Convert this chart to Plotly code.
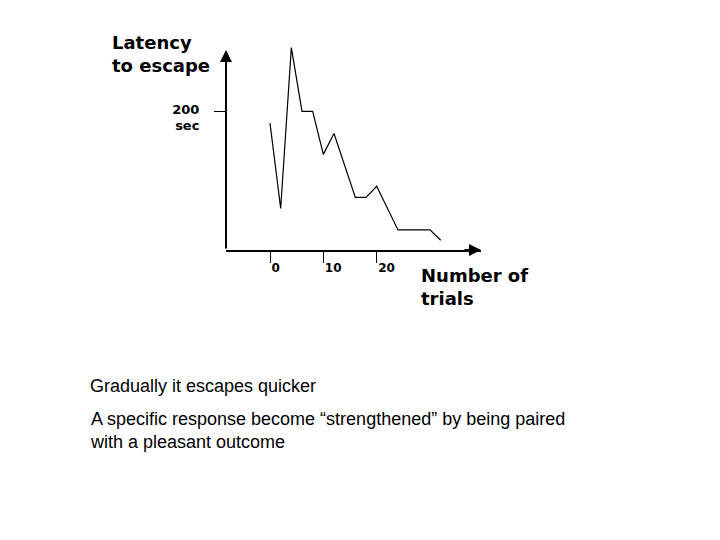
import plotly.graph_objects as go

# trials vs latency to escape (sec)
trials = [0, 2, 4, 6, 8, 10, 12, 16, 18, 20, 24, 30, 32]
latency = [183, 60, 292, 200, 200, 138, 168, 76, 76, 92, 29, 29, 14]

x_ticks = [0, 10, 20]
x_tick_text = ["0", "10", "20"]
y_ticks = [200]
y_tick_text = ["200<br>sec"]

y_title = "Latency<br>to escape"
x_title = "Number of<br>trials"
notes = [
    "Gradually it escapes quicker",
    "A specific response become \u201cstrengthened\u201d by being paired<br>with a pleasant outcome",
]

# the page body adds an 8px offset, so margins are 8px smaller
L, T, W, H = 218, 32, 255, 210


def xp(px):  # page pixel -> paper x
    return (px - 8 - L) / W


def yp(py):  # page pixel -> paper y
    return (T + H - (py - 8)) / H


fig = go.Figure()

fig.add_trace(go.Scatter(x=trials, y=latency, mode='lines',
                         line=dict(color='black', width=1.2), showlegend=False))

bold = dict(family='DejaVu Sans', size=18, color='black', weight='bold')

fig.update_layout(
    width=720, height=540,
    margin=dict(l=L, r=720 - L - W, t=T, b=540 - T - H),
    paper_bgcolor='white', plot_bgcolor='white',
    xaxis=dict(range=[-8.25, 39.56], showgrid=False, zeroline=False,
               showline=True, linewidth=2, linecolor='black',
               tickvals=x_ticks, ticktext=x_tick_text,
               ticks='outside', ticklen=11, tickwidth=1, tickcolor='black',
               ticklabelposition='outside right', ticklabelstandoff=6,
               tickfont=dict(family='DejaVu Sans', size=12, color='black', weight='bold')),
    yaxis=dict(range=[0, 303], showgrid=False, zeroline=False, showline=False,
               tickvals=y_ticks, ticktext=y_tick_text,
               ticks='outside', ticklen=11, tickwidth=1, tickcolor='black',
               ticklabelstandoff=12, ticklabelshift=6,
               tickfont=dict(family='DejaVu Sans', size=13, color='black', weight='bold')),
)

# axis arrows
fig.add_annotation(x=0, y=288.6, xref='paper', yref='y', ax=0, ay=200,
                   showarrow=True, arrowhead=2, arrowwidth=2, arrowsize=1.2,
                   arrowcolor='black', text='')
fig.add_annotation(x=1, y=0, xref='paper', yref='y', ax=-18, ay=0,
                   showarrow=True, arrowhead=2, arrowwidth=2, arrowsize=1.2,
                   arrowcolor='black', text='')

fig.add_annotation(text=y_title, x=xp(110), y=yp(54), xref='paper', yref='paper',
                   xanchor='left', yanchor='middle', align='left',
                   showarrow=False, font=bold)
fig.add_annotation(text=x_title, x=xp(419), y=yp(287), xref='paper', yref='paper',
                   xanchor='left', yanchor='middle', align='left',
                   showarrow=False, font=bold)

note_font = dict(family='Liberation Sans', size=18, color='black')
fig.add_annotation(text=notes[0], x=xp(88), y=yp(386), xref='paper', yref='paper',
                   xanchor='left', yanchor='middle', align='left',
                   showarrow=False, font=note_font)
fig.add_annotation(text=notes[1], x=xp(88), y=yp(430.5), xref='paper', yref='paper',
                   xanchor='left', yanchor='middle', align='left',
                   showarrow=False, font=note_font)

fig.write_html("out.html")
